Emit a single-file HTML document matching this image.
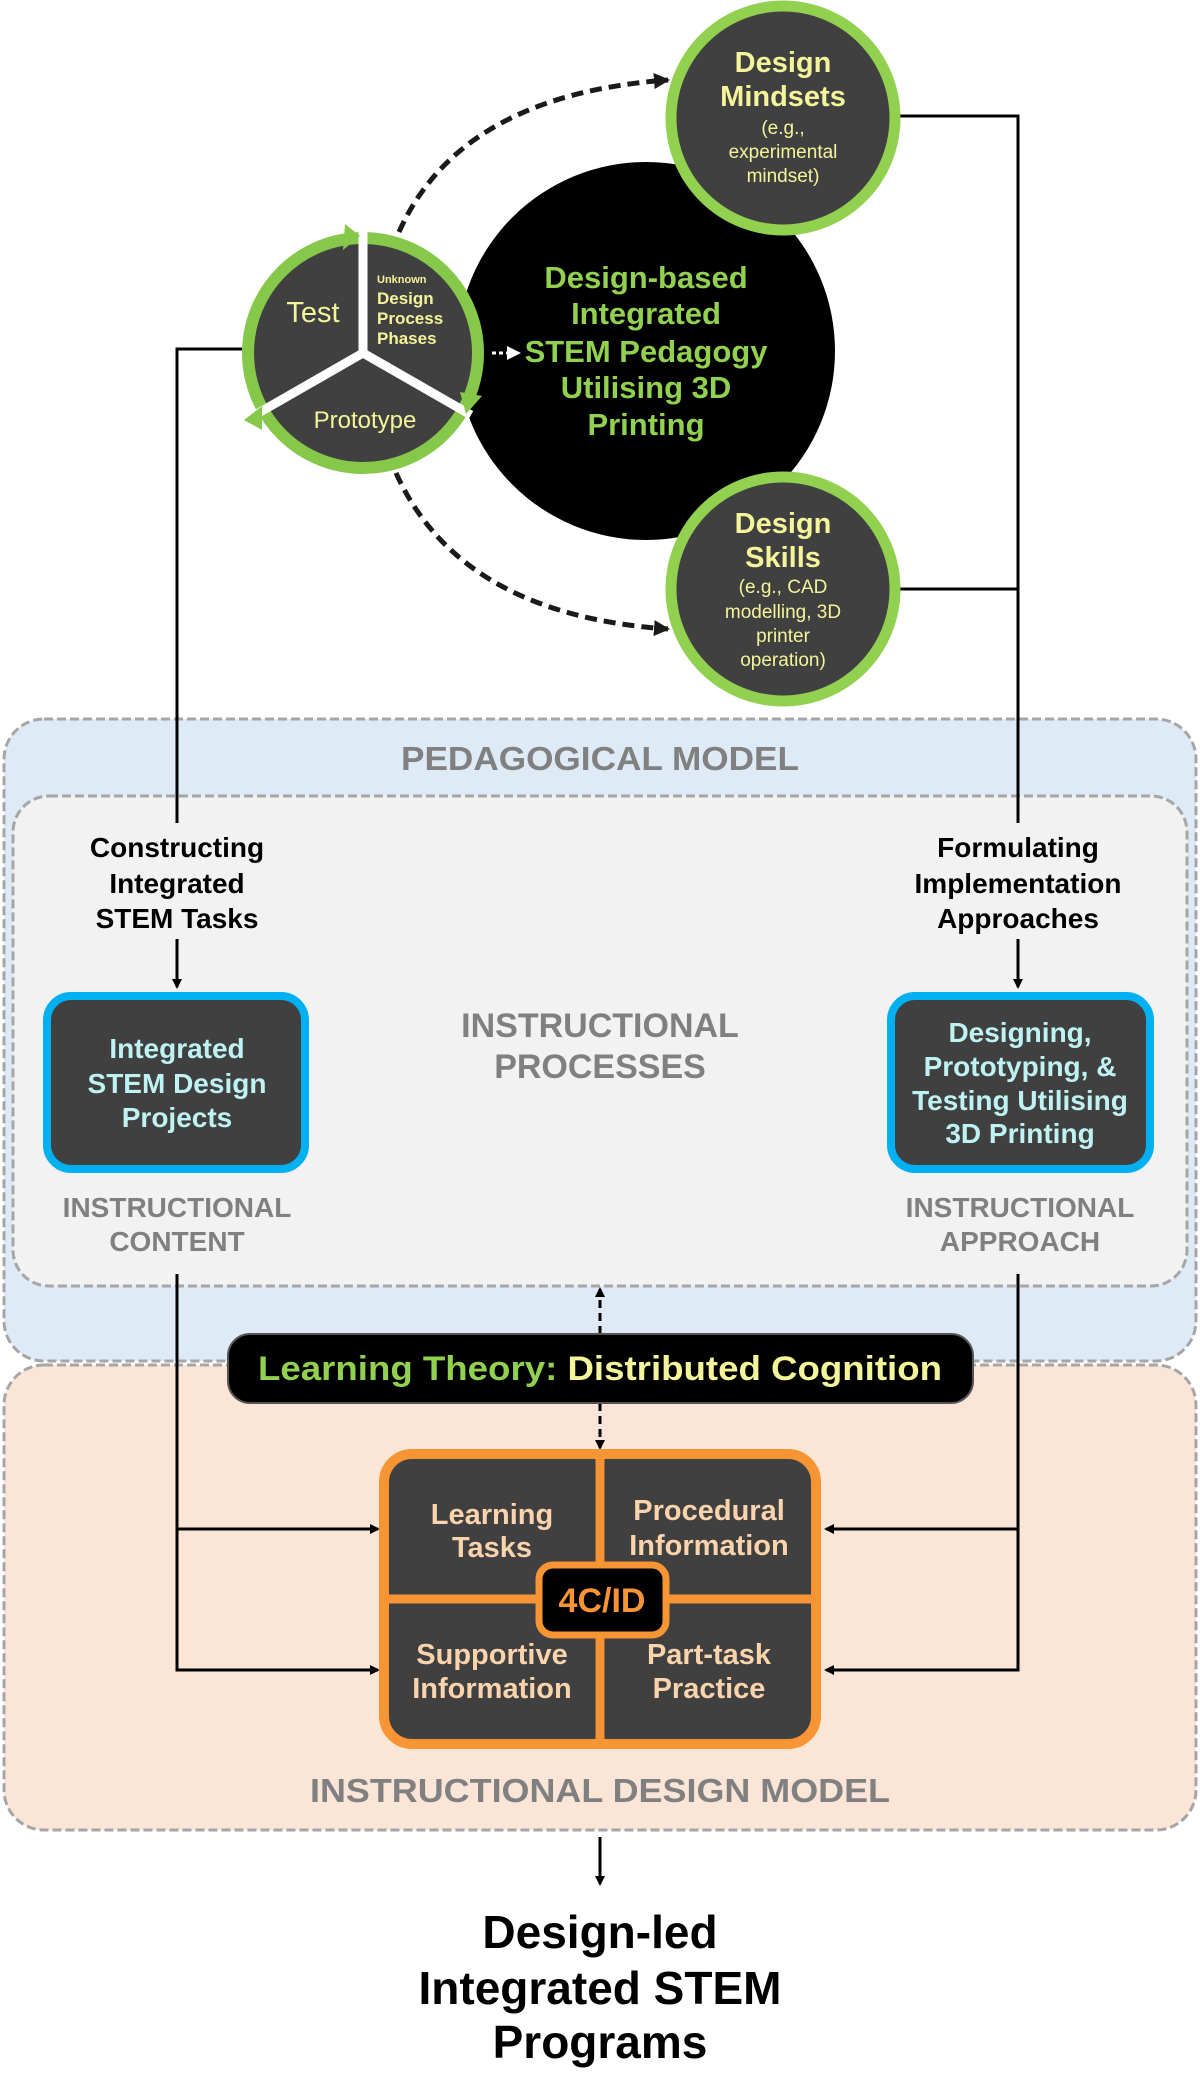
<!DOCTYPE html>
<html><head><meta charset="utf-8"><style>
html,body{margin:0;padding:0;background:#fff;}
svg{display:block;}
text{font-family:"Liberation Sans",sans-serif;font-weight:bold;text-anchor:middle;}
</style></head><body>
<svg width="1200" height="2073" viewBox="0 0 1200 2073" xmlns="http://www.w3.org/2000/svg">
<defs>
<marker id="ah" markerWidth="10" markerHeight="10" refX="8" refY="5" orient="auto" markerUnits="userSpaceOnUse"><path d="M0,0 L10,5 L0,10 z" fill="#000"/></marker>
<marker id="ahb" markerWidth="16" markerHeight="16" refX="14" refY="8" orient="auto" markerUnits="userSpaceOnUse"><path d="M0,0 L16,8 L0,16 z" fill="#1a1a1a"/></marker>
<marker id="ahw" markerWidth="14" markerHeight="14" refX="12" refY="7" orient="auto" markerUnits="userSpaceOnUse"><path d="M0,0 L14,7 L0,14 z" fill="#fff"/></marker>
</defs>

<rect x="4" y="1365" width="1192" height="465" rx="40" fill="#fbe5d6" stroke="#a6a6a6" stroke-width="3" stroke-dasharray="9,4"/>
<rect x="4" y="719" width="1192" height="642" rx="40" fill="#deeaf6" stroke="#a6a6a6" stroke-width="3" stroke-dasharray="9,4"/>
<rect x="13" y="796" width="1174" height="490" rx="36" fill="#f2f2f2" stroke="#a6a6a6" stroke-width="3" stroke-dasharray="9,4"/>

<text x="600" y="770" font-size="33" fill="#808080" textLength="398" lengthAdjust="spacingAndGlyphs">PEDAGOGICAL MODEL</text>
<text x="600" y="1037" font-size="34" fill="#808080">INSTRUCTIONAL</text>
<text x="600" y="1078" font-size="34" fill="#808080">PROCESSES</text>
<text x="177" y="1217" font-size="28" fill="#808080">INSTRUCTIONAL</text>
<text x="177" y="1251" font-size="28" fill="#808080">CONTENT</text>
<text x="1020" y="1217" font-size="28" fill="#808080">INSTRUCTIONAL</text>
<text x="1020" y="1251" font-size="28" fill="#808080">APPROACH</text>
<text x="600" y="1802" font-size="33" fill="#808080" textLength="580" lengthAdjust="spacingAndGlyphs">INSTRUCTIONAL DESIGN MODEL</text>

<g stroke="#000" stroke-width="3" fill="none">
<polyline points="242,349 177,349 177,823"/>
<polyline points="898,116 1018,116 1018,823"/>
<line x1="898" y1="589" x2="1018" y2="589"/>
<line x1="177" y1="939" x2="177" y2="987" marker-end="url(#ah)"/>
<line x1="1018" y1="939" x2="1018" y2="987" marker-end="url(#ah)"/>
<polyline points="177,1274 177,1670 378,1670" marker-end="url(#ah)"/>
<line x1="177" y1="1529" x2="378" y2="1529" marker-end="url(#ah)"/>
<polyline points="1018,1274 1018,1670 826,1670" marker-end="url(#ah)"/>
<line x1="1018" y1="1529" x2="826" y2="1529" marker-end="url(#ah)"/>
<line x1="600" y1="1837" x2="600" y2="1884" marker-end="url(#ah)"/>
<line x1="600" y1="1334" x2="600" y2="1289" stroke-dasharray="8,5" marker-end="url(#ah)"/>
<line x1="600" y1="1403" x2="600" y2="1448" stroke-dasharray="8,5" marker-end="url(#ah)"/>
</g>

<text x="177" y="857" font-size="28" fill="#000">Constructing</text>
<text x="177" y="893" font-size="28" fill="#000">Integrated</text>
<text x="177" y="928" font-size="28" fill="#000">STEM Tasks</text>
<text x="1018" y="857" font-size="28" fill="#000">Formulating</text>
<text x="1018" y="893" font-size="28" fill="#000">Implementation</text>
<text x="1018" y="928" font-size="28" fill="#000">Approaches</text>

<rect x="47" y="996" width="258" height="173" rx="24" fill="#404040" stroke="#00b0f0" stroke-width="8"/>
<text x="177" y="1058" font-size="28" fill="#bff3f3" font-weight="normal">Integrated</text>
<text x="177" y="1093" font-size="28" fill="#bff3f3" font-weight="normal">STEM Design</text>
<text x="177" y="1127" font-size="28" fill="#bff3f3" font-weight="normal">Projects</text>
<rect x="891" y="996" width="259" height="173" rx="24" fill="#404040" stroke="#00b0f0" stroke-width="8"/>
<text x="1020" y="1042" font-size="28" fill="#bff3f3" font-weight="normal">Designing,</text>
<text x="1020" y="1076" font-size="28" fill="#bff3f3" font-weight="normal">Prototyping, &amp;</text>
<text x="1020" y="1110" font-size="28" fill="#bff3f3" font-weight="normal">Testing Utilising</text>
<text x="1020" y="1143" font-size="28" fill="#bff3f3" font-weight="normal">3D Printing</text>

<rect x="228" y="1334" width="745" height="69" rx="22" fill="#000" stroke="#555" stroke-width="2"/>
<text x="600" y="1380" font-size="34" textLength="684" lengthAdjust="spacingAndGlyphs"><tspan fill="#92d050">Learning Theory: </tspan><tspan fill="#f4f49a">Distributed Cognition</tspan></text>

<rect x="384" y="1454" width="432" height="290" rx="28" fill="#404040" stroke="#f79433" stroke-width="10"/>
<line x1="600" y1="1454" x2="600" y2="1744" stroke="#f79433" stroke-width="9"/>
<line x1="384" y1="1599" x2="816" y2="1599" stroke="#f79433" stroke-width="9"/>
<rect x="539" y="1565" width="127" height="70" rx="14" fill="#000" stroke="#f79433" stroke-width="7"/>
<text x="602" y="1612" font-size="34" fill="#f79433">4C/ID</text>
<g font-size="29" fill="#fbd3ad" font-weight="normal">
<text x="492" y="1524">Learning</text><text x="492" y="1557">Tasks</text>
<text x="709" y="1520">Procedural</text><text x="709" y="1555">Information</text>
<text x="492" y="1664">Supportive</text><text x="492" y="1698">Information</text>
<text x="709" y="1664">Part-task</text><text x="709" y="1698">Practice</text>
</g>

<text x="600" y="1948" font-size="46" fill="#000">Design-led</text>
<text x="600" y="2004" font-size="46" fill="#000">Integrated STEM</text>
<text x="600" y="2058" font-size="46" fill="#000">Programs</text>

<circle cx="646" cy="351" r="189" fill="#000"/>
<g fill="#92d050" font-size="31">
<text x="646" y="288">Design-based</text>
<text x="646" y="324">Integrated</text>
<text x="646" y="362">STEM Pedagogy</text>
<text x="646" y="398">Utilising 3D</text>
<text x="646" y="435">Printing</text>
</g>
<line x1="492" y1="353" x2="519" y2="353" stroke="#fff" stroke-width="3" stroke-dasharray="4,3" marker-end="url(#ahw)"/>

<path d="M399,232 Q460,95 668,80" fill="none" stroke="#1a1a1a" stroke-width="5" stroke-dasharray="12,7" marker-end="url(#ahb)"/>
<path d="M396,473 Q460,615 668,629" fill="none" stroke="#1a1a1a" stroke-width="5" stroke-dasharray="12,7" marker-end="url(#ahb)"/>

<circle cx="783" cy="118" r="112" fill="#404040" stroke="#92d050" stroke-width="11"/>
<text x="783" y="72" font-size="29" fill="#f4f49a">Design</text>
<text x="783" y="106" font-size="29" fill="#f4f49a">Mindsets</text>
<g font-size="19" fill="#f4f49a" style="font-weight:normal">
<text x="783" y="134" style="font-weight:normal">(e.g.,</text><text x="783" y="158" style="font-weight:normal">experimental</text><text x="783" y="182" style="font-weight:normal">mindset)</text>
</g>
<circle cx="783" cy="589" r="112" fill="#404040" stroke="#92d050" stroke-width="11"/>
<text x="783" y="533" font-size="29" fill="#f4f49a">Design</text>
<text x="783" y="567" font-size="29" fill="#f4f49a">Skills</text>
<g font-size="19" fill="#f4f49a">
<text x="783" y="593" style="font-weight:normal">(e.g., CAD</text><text x="783" y="618" style="font-weight:normal">modelling, 3D</text><text x="783" y="642" style="font-weight:normal">printer</text><text x="783" y="666" style="font-weight:normal">operation)</text>
</g>

<circle cx="363" cy="353" r="115" fill="#404040" stroke="#86c84a" stroke-width="12"/>
<g stroke="#fff" stroke-width="9">
<line x1="363" y1="353" x2="363" y2="228"/>
<line x1="363" y1="353" x2="255" y2="415"/>
<line x1="363" y1="353" x2="471" y2="415"/>
</g>
<g fill="#86c84a">
<path d="M345,224 L360,236 L343,250 z"/>
<path d="M460,392 L482,396 L466,414 z"/>
<path d="M262,406 L262,430 L244,420 z"/>
</g>
<text x="313" y="322" font-size="29" fill="#f4f49a" style="font-weight:normal">Test</text>
<text x="377" y="283" font-size="11" fill="#f4f49a" style="text-anchor:start">Unknown</text>
<text x="377" y="304" font-size="17" fill="#f4f49a" style="text-anchor:start">Design</text>
<text x="377" y="324" font-size="17" fill="#f4f49a" style="text-anchor:start">Process</text>
<text x="377" y="344" font-size="17" fill="#f4f49a" style="text-anchor:start">Phases</text>
<text x="365" y="428" font-size="24" fill="#f4f49a" style="font-weight:normal">Prototype</text>
</svg>
</body></html>
